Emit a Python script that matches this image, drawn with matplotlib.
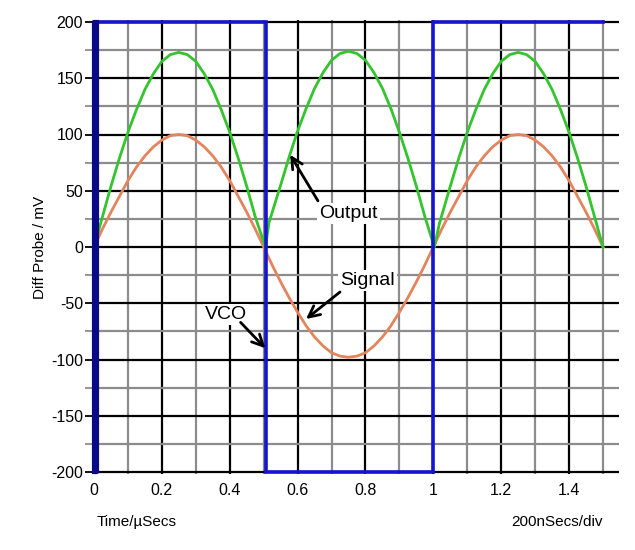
import numpy as np
import matplotlib.pyplot as plt
from matplotlib.ticker import MultipleLocator

plt.rcParams['font.family'] = ['Liberation Sans', 'DejaVu Sans']
plt.rcParams['axes.unicode_minus'] = False

# Signal (mV) sampled every 25 ns
sig_t = [0.0, 0.025, 0.05, 0.075, 0.1, 0.125, 0.15, 0.175, 0.2, 0.225,
         0.25, 0.275, 0.3, 0.325, 0.35, 0.375, 0.4, 0.425, 0.45, 0.475,
         0.5, 0.525, 0.55, 0.575, 0.6, 0.625, 0.65, 0.675, 0.7, 0.725,
         0.75, 0.775, 0.8, 0.825, 0.85, 0.875, 0.9, 0.925, 0.95, 0.975,
         1.0, 1.025, 1.05, 1.075, 1.1, 1.125, 1.15, 1.175, 1.2, 1.225,
         1.25, 1.275, 1.3, 1.325, 1.35, 1.375, 1.4, 1.425, 1.45, 1.475, 1.5]
sig_v = [0, 16, 31, 45, 59, 71, 81, 89, 95, 99,
         100, 99, 95, 89, 81, 71, 59, 45, 31, 16,
         0, -16, -31, -45, -58, -70, -80, -88, -94, -97,
         -98, -97, -94, -88, -80, -70, -58, -45, -31, -16,
         0, 16, 31, 45, 59, 71, 81, 89, 95, 99,
         100, 99, 95, 89, 81, 71, 59, 45, 31, 16, 0]

# Output (rectified), with the small glitch just after each VCO edge
out_t = [0.0, 0.025, 0.05, 0.075, 0.1, 0.125, 0.15, 0.175, 0.2, 0.225,
         0.25, 0.275, 0.3, 0.325, 0.35, 0.375, 0.4, 0.425, 0.45, 0.475,
         0.505, 0.516, 0.55, 0.575, 0.6, 0.625, 0.65, 0.675, 0.7, 0.725,
         0.75, 0.775, 0.8, 0.825, 0.85, 0.875, 0.9, 0.925, 0.95, 0.975,
         1.003, 1.018, 1.05, 1.075, 1.1, 1.125, 1.15, 1.175, 1.2, 1.225,
         1.25, 1.275, 1.3, 1.325, 1.35, 1.375, 1.4, 1.425, 1.45, 1.475, 1.5]
out_v = [0, 27, 54, 79, 102, 122, 140, 154, 165, 171,
         173, 171, 165, 154, 140, 122, 102, 79, 54, 27,
         0, 22, 55, 80, 103, 123, 141, 155, 166, 172,
         174, 172, 166, 155, 141, 123, 102, 79, 54, 27,
         0, 21, 54, 79, 102, 122, 140, 154, 165, 171,
         173, 171, 165, 154, 140, 122, 102, 79, 54, 27, 0]

# VCO square wave (drawn clipped at the rails)
vco_t = [0.01, 0.506, 0.506, 1.0, 1.0, 1.5]
vco_v = [200, 200, -200, -200, 200, 200]
# start-up edges at t=0
vco0_t = [0.0, 0.0, 0.004, 0.004, 0.009, 0.009]
vco0_v = [-200, 200, 200, -200, -200, 200]

fig = plt.figure(figsize=(6.35, 5.5), dpi=100)
W, H = 635, 550
x0_px, xscale = 94, 339.33
y0_px, yscale = 247, 1.125
xlim = (-0.006, 1.547)
ylim = (-202, 202)
left = x0_px + xlim[0] * xscale
right = x0_px + xlim[1] * xscale
top = y0_px - ylim[1] * yscale
bottom = y0_px - ylim[0] * yscale
ax = fig.add_axes([left / W, 1 - bottom / H, (right - left) / W, (bottom - top) / H])

ax.set_xlim(*xlim)
ax.set_ylim(*ylim)

# grid: black majors, grey minors
ax.xaxis.set_major_locator(MultipleLocator(0.2))
ax.xaxis.set_minor_locator(MultipleLocator(0.1))
ax.yaxis.set_major_locator(MultipleLocator(50))
ax.yaxis.set_minor_locator(MultipleLocator(25))
ax.grid(which='minor', color='#8c8c8c', lw=1.6, zorder=0)
ax.grid(which='major', color='black', lw=1.6, zorder=0)
ax.set_axisbelow(True)

for s in ax.spines.values():
    s.set_visible(False)

ax.tick_params(axis='y', which='major', direction='out', length=5, width=1.3,
               labelsize=11.5, pad=1.5)
ax.tick_params(axis='y', which='minor', direction='out', length=5, width=1.3,
               color='#8c8c8c')
ax.tick_params(axis='x', which='both', length=0, labelsize=11.5, pad=6)
ax.set_xticks([0, 0.2, 0.4, 0.6, 0.8, 1.0, 1.2, 1.4])
ax.set_xticklabels(['0', '0.2', '0.4', '0.6', '0.8', '1', '1.2', '1.4'])

ax.plot(sig_t, sig_v, color='#e3845c', lw=2, zorder=3)
ax.plot(out_t, out_v, color='#33c42e', lw=2, zorder=3)
ax.plot(vco_t, vco_v, color='#1515d0', lw=2.6, zorder=4, clip_on=False,
        solid_joinstyle='miter')
ax.plot(vco0_t, vco0_v, color='#0a0a85', lw=3, zorder=4, clip_on=False)

arrow = dict(arrowstyle='->', color='black', lw=2, mutation_scale=20,
             shrinkA=0, shrinkB=0)
box = dict(facecolor='white', edgecolor='none', pad=1.5)
ax.annotate('', xy=(0.578, 82), xytext=(0.66, 41), arrowprops=arrow, zorder=6)
ax.text(0.749, 30, 'Output', fontsize=14, ha='center', va='center',
        bbox=box, zorder=5)
ax.annotate('', xy=(0.625, -64), xytext=(0.725, -40), arrowprops=arrow, zorder=6)
ax.text(0.805, -30, 'Signal', fontsize=14, ha='center', va='center',
        bbox=box, zorder=5)
ax.annotate('', xy=(0.505, -90), xytext=(0.432, -67), arrowprops=arrow, zorder=6)
ax.text(0.389, -60, 'VCO', fontsize=14, ha='center', va='center',
        bbox=box, zorder=5)

fig.text(40 / W, 1 - 247 / H, 'Diff Probe / mV', rotation=90, fontsize=11,
         ha='center', va='center')
fig.text(97 / W, 1 - 522 / H, 'Time/\u00b5Secs', fontsize=11,
         ha='left', va='center')
fig.text(603 / W, 1 - 522 / H, '200nSecs/div', fontsize=11,
         ha='right', va='center')

fig.savefig('out.png', dpi=100)
